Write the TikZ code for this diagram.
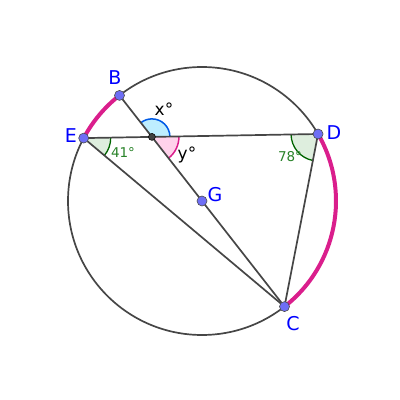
\documentclass[tikz,border=0pt]{standalone}
\usepackage{fontspec}
\setmainfont{DejaVu Sans}
\usetikzlibrary{angles,calc}
\definecolor{linegray}{RGB}{70,70,70}
\definecolor{arcpink}{RGB}{218,30,140}
\definecolor{ptfill}{RGB}{110,110,245}
\definecolor{ptlabel}{RGB}{0,0,255}
\definecolor{greenfill}{RGB}{222,238,222}
\definecolor{greenline}{RGB}{0,100,0}
\definecolor{greentext}{RGB}{40,130,40}
\definecolor{cyanfill}{RGB}{190,238,255}
\definecolor{bluearc}{RGB}{0,90,230}
\definecolor{pinkfill}{RGB}{255,210,235}
\begin{document}
\begin{tikzpicture}[x=1pt,y=1pt,
  seg/.style={draw=linegray,line width=1.7pt},
  hl/.style={draw=arcpink,line width=4pt},
  pt/.style={circle,fill=ptfill,draw=black!70,line width=0.6pt,inner sep=0pt,minimum size=10pt},
  ipt/.style={circle,fill=black!75,draw=black,line width=0.5pt,inner sep=0pt,minimum size=7pt},
  plab/.style={text=ptlabel,font=\fontsize{19}{20}\selectfont,inner sep=0pt},
  vlab/.style={text=black,font=\fontsize{17}{18}\selectfont,inner sep=0pt},
  glab/.style={text=greentext,font=\fontsize{13.5}{14}\selectfont,inner sep=0pt},
  gsec/.style={fill=greenfill,draw=greenline,line width=1.3pt,angle radius=27pt},
]
\useasboundingbox (0,0) rectangle (400,400);
\coordinate (O) at (202,199);
\def\R{134}
\coordinate (E) at ($(O)+(152:\R)$);
\coordinate (D) at ($(O)+(30:\R)$);
\coordinate (C) at ($(O)+(-52:\R)$);
\coordinate (B) at ($(O)+(128:\R)$);
\coordinate (P) at (intersection of E--D and B--C);
% angle sectors
\pic[gsec] {angle=C--E--D};
\pic[gsec] {angle=E--D--C};
\pic[fill=cyanfill,draw=bluearc,line width=1.5pt,angle radius=18pt] {angle=D--P--B};
\pic[fill=pinkfill,draw=arcpink,line width=1.5pt,angle radius=27pt] {angle=C--P--D};
% circle and segments
\draw[seg] (O) circle[radius=\R];
\draw[seg] (E) -- (D);
\draw[seg] (E) -- (C);
\draw[seg] (D) -- (C);
\draw[seg] (B) -- (C);
% highlighted arcs
\draw[hl] (B) arc[start angle=128,end angle=152,radius=\R];
\draw[hl] (C) arc[start angle=-52,end angle=30,radius=\R];
% points
\node[ipt] (Pp) at (P) {};
\node[pt] (Bp) at (B) {};
\node[pt] (Ep) at (E) {};
\node[pt] (Dp) at (D) {};
\node[pt] (Cp) at (C) {};
\node[pt] (Gp) at (O) {};
% labels
\node[plab] (lB) at (115,322) {B};
\node[plab] (lE) at (71,264) {E};
\node[plab] (lD) at (334,267) {D};
\node[plab] (lG) at (215,205) {G};
\node[plab] (lC) at (293,76) {C};
\node[vlab] (lx) at (164,291) {x°};
\node[vlab] (ly) at (187,245) {y°};
\node[glab] (l41) at (123,248) {41°};
\node[glab] (l78) at (290,243) {78°};
\end{tikzpicture}
\end{document}
